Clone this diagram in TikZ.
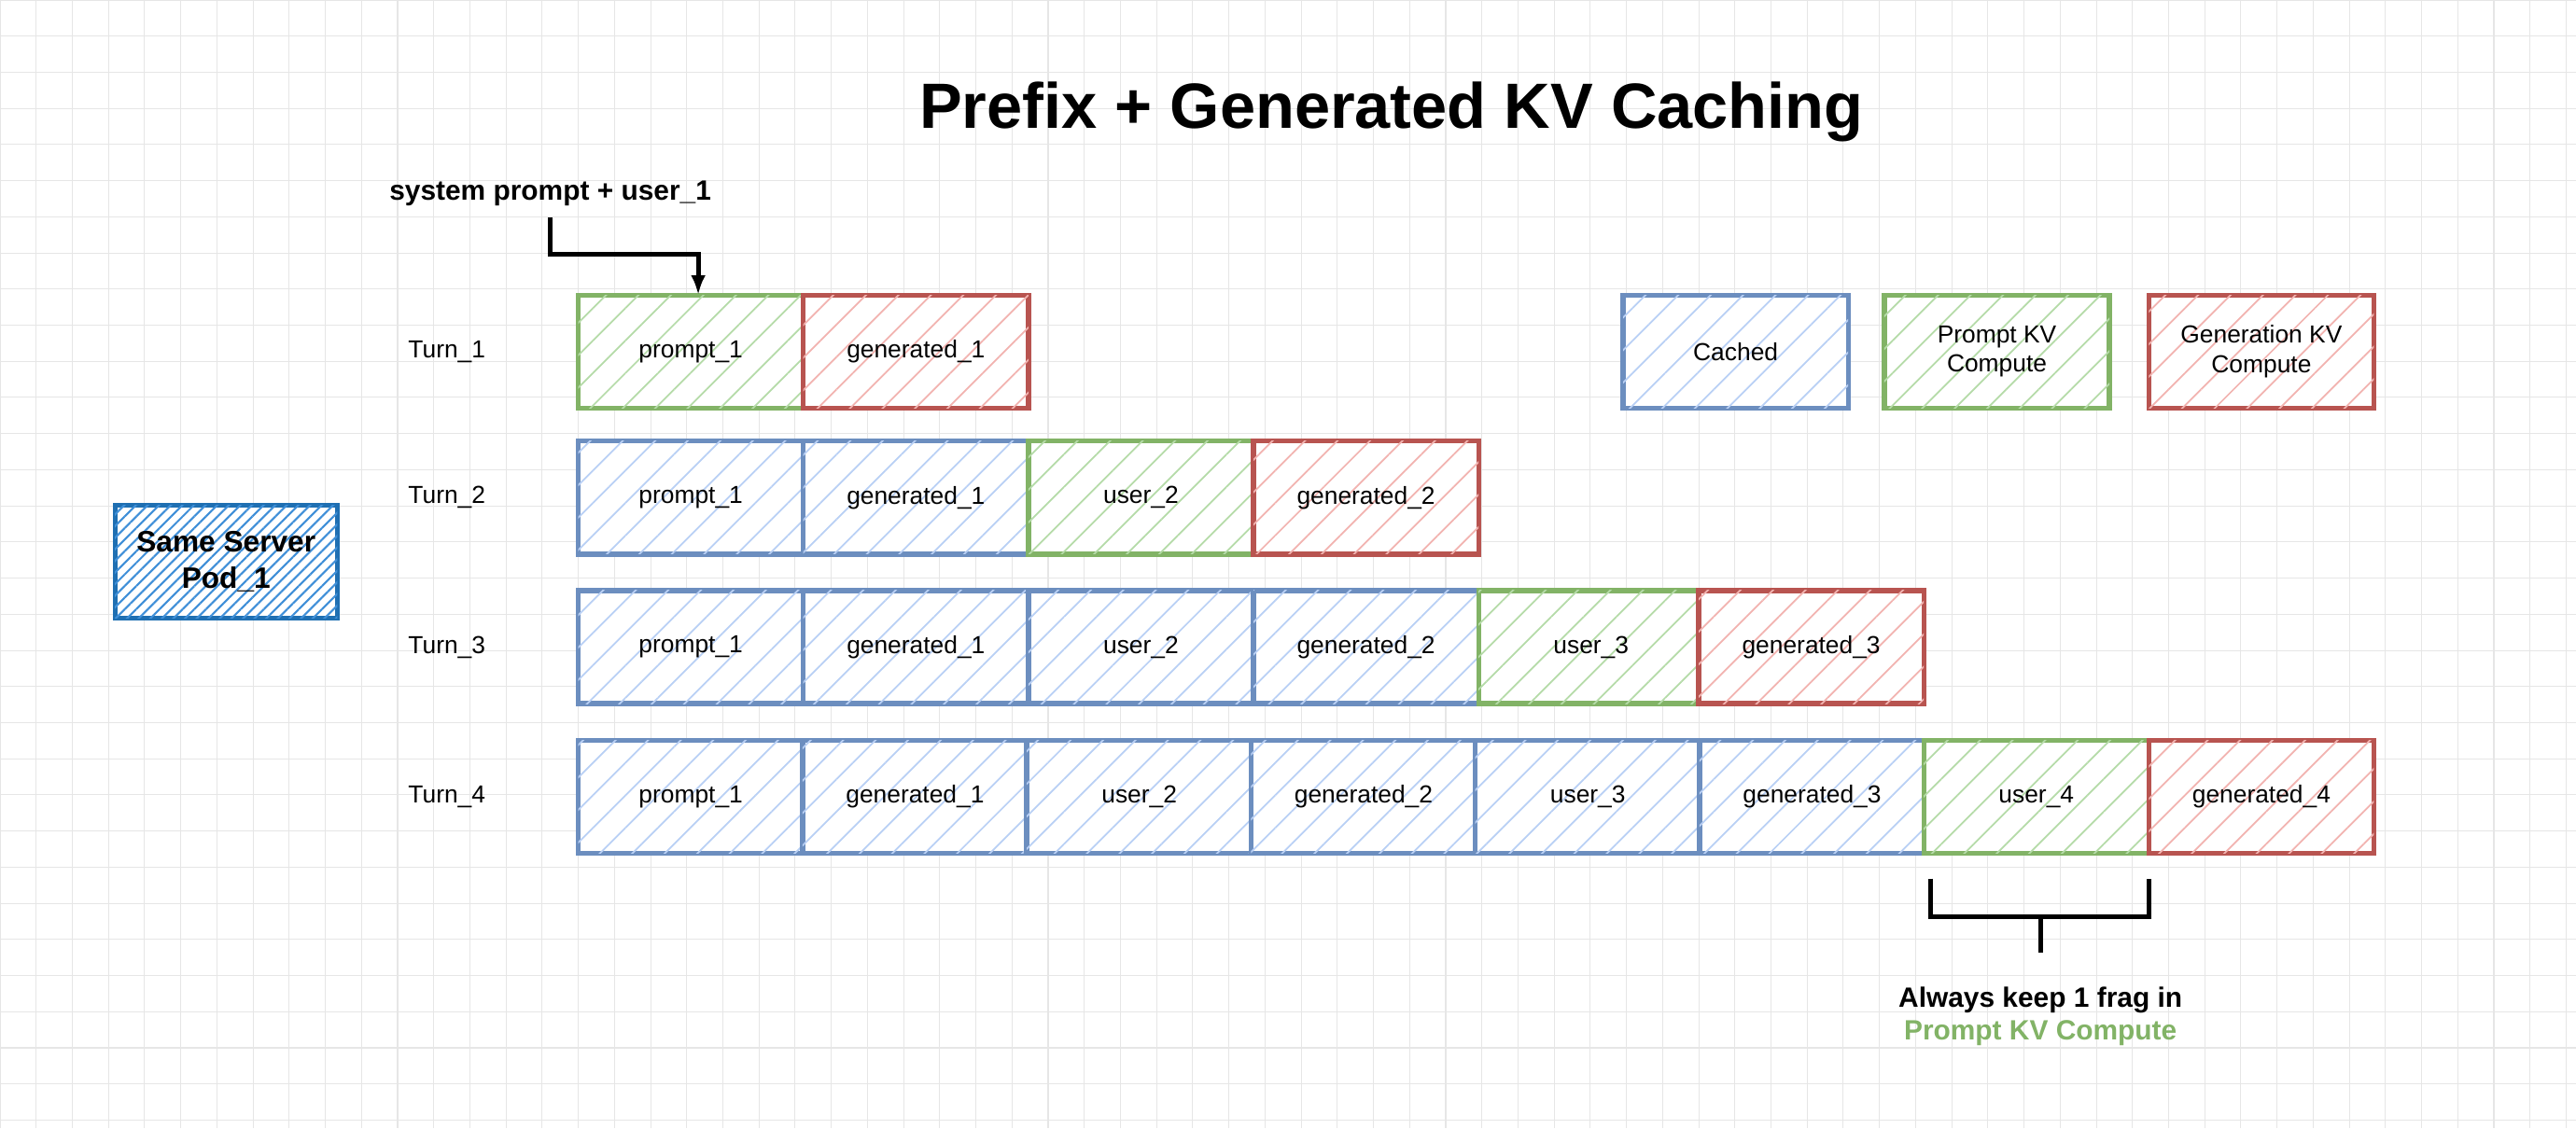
\documentclass[tikz,border=0pt]{standalone}
\usepackage{fontspec}
\setmainfont{Liberation Sans}
\usetikzlibrary{positioning,patterns.meta,arrows.meta}
\definecolor{cachedline}{HTML}{6C8EBF}
\definecolor{cachedfill}{HTML}{B9D0F5}
\definecolor{promptline}{HTML}{82B366}
\definecolor{promptfill}{HTML}{B5DBA8}
\definecolor{genline}{HTML}{B85450}
\definecolor{genfill}{HTML}{F2B3B0}
\definecolor{podline}{HTML}{1F6FB2}
\definecolor{podfill}{HTML}{3F8FD8}
\definecolor{gridline}{HTML}{E6E6E6}

\begin{document}
\begin{tikzpicture}
   [x=0.0176cm, y=-0.0176cm,
    blk/.style={draw, line width=1.5pt, minimum width=2.41cm, minimum height=1.21cm,
                inner sep=0pt, outer sep=0pt, anchor=west, align=center,
                font=\fontsize{7.5}{9}\selectfont},
    cached/.style={blk, draw=cachedline, fill=white,
                postaction={pattern={Lines[angle=45,distance=7pt,line width=0.5pt]}, pattern color=cachedfill}},
    prompt/.style={blk, draw=promptline, fill=white,
                postaction={pattern={Lines[angle=45,distance=7pt,line width=0.5pt]}, pattern color=promptfill}},
    gen/.style={blk, draw=genline, fill=white,
                postaction={pattern={Lines[angle=45,distance=7pt,line width=0.5pt]}, pattern color=genfill}},
    turn/.style={font=\fontsize{7.5}{9}\selectfont},
    note/.style={font=\bfseries\fontsize{8.5}{10}\selectfont, align=center}]
   \useasboundingbox (0,0) rectangle (1568,687);
   \fill[white] (0,0) rectangle (1568,687);
   \foreach \i in {0,...,71} \draw[gridline, line width=0.3pt] (22*\i,0) -- (22*\i,687);
   \foreach \i in {0,...,31} \draw[gridline, line width=0.3pt] (0,22*\i) -- (1568,22*\i);

   \node[font=\bfseries\fontsize{19.5}{22}\selectfont] (title) at (847,68) {Prefix + Generated KV Caching};

   % turns
   \node[turn] (t1) at (272,214) {Turn\_1};
   \node[turn] (t2) at (272,303) {Turn\_2};
   \node[turn] (t3) at (272,394) {Turn\_3};
   \node[turn] (t4) at (272,485) {Turn\_4};

   \node[prompt] (p1) at (352,214) {prompt\_1};
   \node[gen] (g1) at (489,214) {generated\_1};

   \node[cached] (p2) at (352,303) {prompt\_1};
   \node[cached] (g21) at (489,303) {generated\_1};
   \node[prompt] (u2) at (626,303) {user\_2};
   \node[gen] (g2) at (763,303) {generated\_2};

   \foreach \t/\i in {prompt\_1/1,generated\_1/2,user\_2/3,generated\_2/4}
      \node[cached] (c3\i) at (352+137*\i-137,394) {\t};
   \node[prompt] (u3) at (900,394) {user\_3};
   \node[gen] (g3) at (1034,394) {generated\_3};

   \foreach \t/\i in {prompt\_1/1,generated\_1/2,user\_2/3,generated\_2/4,user\_3/5,generated\_3/6}
      \node[cached] (c4\i) at (352+136.5*\i-136.5,485) {\t};
   \node[prompt] (u4) at (1171,485) {user\_4};
   \node[gen] (g4) at (1308,485) {generated\_4};

   % legend
   \node[cached] (lc) at (988,214) {Cached};
   \node[prompt] (lp) at (1147,214) {Prompt KV\\Compute};
   \node[gen] (lg) at (1308,214) {Generation KV\\Compute};

   \node[blk, draw=podline, fill=white, minimum width=2.38cm,
         font=\bfseries\fontsize{9}{11}\selectfont,
         postaction={pattern={Lines[angle=45,distance=2.5pt,line width=0.6pt]}, pattern color=podfill}]
         (pod) at (70,342) {Same Server\\Pod\_1};

   % annotations
   \node[note] (sys) at (335,118) {system prompt + user\_1};
   \coordinate (bend) at (335,155);
   \draw[line width=1.4pt, -{Latex[length=6pt]}] (sys.south -| bend) -- (bend) -| (p1.north -| 425,0);

   \coordinate (bl) at (1175,535);
   \coordinate (br) at (1308,535);
   \coordinate (stem) at (1242,580);
   \draw[line width=1.4pt] (bl) -- (1175,558) -- (1308,558) -- (br);
   \draw[line width=1.4pt] (1242,558) -- (stem);
   \node[note, below=7pt of stem] (keep) {Always keep 1 frag in\\\textcolor{promptline}{Prompt KV Compute}};
\end{tikzpicture}
\end{document}
